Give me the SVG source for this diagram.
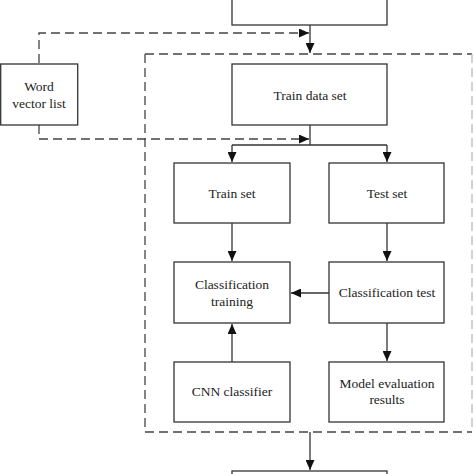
<svg xmlns="http://www.w3.org/2000/svg" width="474" height="474" viewBox="0 0 474 474">
<style>
.box{fill:#fff;stroke:#333;stroke-width:1.3}
.t{font-family:"Liberation Serif","Times New Roman",serif;font-size:13.5px;fill:#222;text-anchor:middle}
.ln{fill:none;stroke:#333;stroke-width:1.3}
.dash{fill:none;stroke:#444;stroke-width:1.3;stroke-dasharray:9 5}
</style>
<defs>
<marker id="ah" markerUnits="userSpaceOnUse" markerWidth="11" markerHeight="9" refX="10" refY="4.5" orient="auto">
<path d="M0,0 L10,4.5 L0,9 z" fill="#111"/>
</marker>
</defs>
<rect width="474" height="474" fill="#fff"/>
<g id="container">
<path class="dash" d="M145,54 H472"/>
<path class="dash" d="M145,54 V432"/>
<path class="dash" d="M145,432 H472"/>
<path class="dash" d="M472,54 V432" stroke="#aaa" style="stroke:#bbb"/>
</g>
<g id="connectors">
<path class="ln" d="M310,25 V53" marker-end="url(#ah)"/>
<path class="dash" d="M39,63 V33 H309" marker-end="url(#ah)"/>
<path class="dash" d="M39,125 V139 H309" marker-end="url(#ah)"/>
<path class="ln" d="M310,125 V145"/>
<path class="ln" d="M232,145 H387"/>
<path class="ln" d="M232,145 V162" marker-end="url(#ah)"/>
<path class="ln" d="M387,145 V162" marker-end="url(#ah)"/>
<path class="ln" d="M232,223 V261" marker-end="url(#ah)"/>
<path class="ln" d="M387,223 V261" marker-end="url(#ah)"/>
<path class="ln" d="M329,293 H291" marker-end="url(#ah)"/>
<path class="ln" d="M232,362 V324" marker-end="url(#ah)"/>
<path class="ln" d="M387,323 V361" marker-end="url(#ah)"/>
<path class="ln" d="M310,432 V470" marker-end="url(#ah)"/>
</g>
<g id="top-box"><rect class="box" x="232" y="-2" width="155" height="27"/></g>
<g id="word-vector-list"><rect class="box" x="0.7" y="64" width="77" height="61"/>
<text class="t" x="39" y="91">Word</text><text class="t" x="39" y="108">vector list</text></g>
<g id="train-data-set"><rect class="box" x="232" y="64" width="155" height="61"/>
<text class="t" x="310" y="100">Train data set</text></g>
<g id="train-set"><rect class="box" x="174" y="163" width="116" height="60"/>
<text class="t" x="232" y="198">Train set</text></g>
<g id="test-set"><rect class="box" x="329" y="163" width="115" height="60"/>
<text class="t" x="387" y="198">Test set</text></g>
<g id="classification-training"><rect class="box" x="174" y="262" width="116" height="61"/>
<text class="t" x="232" y="289">Classification</text><text class="t" x="232" y="306">training</text></g>
<g id="classification-test"><rect class="box" x="329" y="262" width="115" height="61"/>
<text class="t" x="387" y="297">Classification test</text></g>
<g id="cnn-classifier"><rect class="box" x="174" y="362" width="116" height="60"/>
<text class="t" x="232" y="396">CNN classifier</text></g>
<g id="model-evaluation-results"><rect class="box" x="329" y="362" width="115" height="60"/>
<text class="t" x="387" y="388">Model evaluation</text><text class="t" x="387" y="404">results</text></g>
<g id="bottom-box"><rect class="box" x="232" y="471" width="155" height="10"/></g>
</svg>
